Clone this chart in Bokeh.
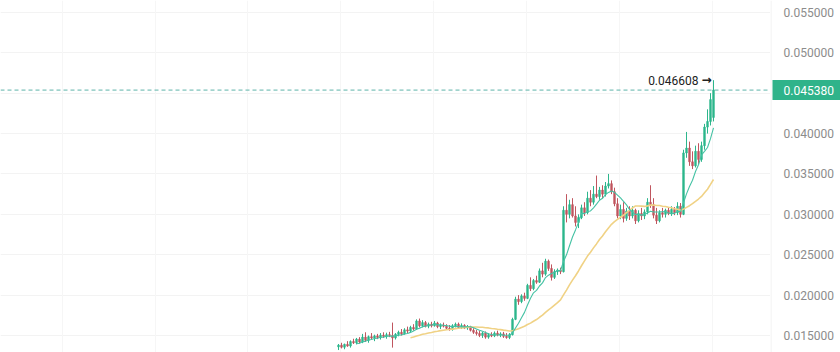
import pandas as pd
from bokeh.plotting import figure
from bokeh.layouts import row
from bokeh.models import Range1d, FixedTicker, Span, ColumnDataSource, Grid
from bokeh.core.properties import value
from bokeh.embed import file_html
from bokeh.resources import INLINE

# ---- data ----
opens = [0.01360, 0.01380, 0.01355, 0.01390, 0.01370, 0.01425, 0.01410, 0.01455, 0.01420, 0.01480,
         0.01440, 0.01485, 0.01470, 0.01495, 0.01475, 0.01505, 0.01490, 0.01510, 0.01500, 0.01470,
         0.01515, 0.01540, 0.01520, 0.01570, 0.01555, 0.01600, 0.01580, 0.01680, 0.01620, 0.01660,
         0.01615, 0.01640, 0.01620, 0.01655, 0.01610, 0.01630, 0.01615, 0.01590, 0.01575, 0.01620,
         0.01640, 0.01600, 0.01625, 0.01595, 0.01610, 0.01565, 0.01540, 0.01525, 0.01500, 0.01530,
         0.01480, 0.01510, 0.01495, 0.01530, 0.01505, 0.01520, 0.01490, 0.01475, 0.01510, 0.01700,
         0.01950, 0.01920, 0.01990, 0.01960, 0.02120, 0.02080, 0.02180, 0.02160, 0.02300, 0.02260,
         0.02420, 0.02330, 0.02220, 0.02290, 0.02310, 0.02290, 0.03050, 0.03000, 0.03120, 0.02980,
         0.02900, 0.02960, 0.03080, 0.03020, 0.03200, 0.03150, 0.03250, 0.03220, 0.03300, 0.03250,
         0.03350, 0.03380, 0.03280, 0.03130, 0.02980, 0.03060, 0.02950, 0.03040, 0.02980, 0.03050,
         0.02920, 0.03010, 0.02980, 0.03030, 0.03150, 0.03120, 0.02990, 0.02920, 0.03020, 0.03000,
         0.03050, 0.03010, 0.03060, 0.03020, 0.03100, 0.03000, 0.03760, 0.03820, 0.03650, 0.03600,
         0.03780, 0.03680, 0.03850, 0.04080, 0.04150, 0.04200]
highs = [0.01395, 0.01410, 0.01400, 0.01430, 0.01440, 0.01460, 0.01470, 0.01480, 0.01520, 0.01540,
         0.01500, 0.01530, 0.01510, 0.01520, 0.01530, 0.01540, 0.01535, 0.01545, 0.01660, 0.01530,
         0.01560, 0.01580, 0.01590, 0.01610, 0.01620, 0.01640, 0.01700, 0.01710, 0.01690, 0.01680,
         0.01660, 0.01670, 0.01680, 0.01670, 0.01650, 0.01660, 0.01640, 0.01630, 0.01640, 0.01660,
         0.01660, 0.01650, 0.01640, 0.01630, 0.01620, 0.01590, 0.01570, 0.01560, 0.01545, 0.01550,
         0.01530, 0.01540, 0.01550, 0.01560, 0.01540, 0.01545, 0.01530, 0.01530, 0.01720, 0.01980,
         0.02000, 0.02010, 0.02030, 0.02140, 0.02220, 0.02200, 0.02240, 0.02330, 0.02400, 0.02450,
         0.02440, 0.02380, 0.02320, 0.02330, 0.02340, 0.03100, 0.03250, 0.03180, 0.03200, 0.03100,
         0.03000, 0.03120, 0.03150, 0.03280, 0.03300, 0.03350, 0.03480, 0.03340, 0.03360, 0.03400,
         0.03500, 0.03420, 0.03330, 0.03200, 0.03120, 0.03150, 0.03080, 0.03100, 0.03100, 0.03070,
         0.03050, 0.03080, 0.03060, 0.03200, 0.03360, 0.03200, 0.03080, 0.03050, 0.03080, 0.03070,
         0.03080, 0.03100, 0.03090, 0.03150, 0.03140, 0.03800, 0.04020, 0.03900, 0.03780, 0.03850,
         0.03880, 0.03900, 0.04120, 0.04300, 0.04500, 0.046608]
lows = [0.01320, 0.01340, 0.01330, 0.01360, 0.01350, 0.01395, 0.01390, 0.01400, 0.01405, 0.01420,
        0.01410, 0.01450, 0.01430, 0.01455, 0.01450, 0.01470, 0.01460, 0.01480, 0.01350, 0.01450,
        0.01490, 0.01500, 0.01510, 0.01530, 0.01540, 0.01560, 0.01570, 0.01600, 0.01600, 0.01600,
        0.01590, 0.01600, 0.01610, 0.01590, 0.01580, 0.01600, 0.01570, 0.01560, 0.01560, 0.01600,
        0.01590, 0.01580, 0.01580, 0.01570, 0.01550, 0.01520, 0.01500, 0.01480, 0.01470, 0.01460,
        0.01460, 0.01480, 0.01480, 0.01490, 0.01480, 0.01470, 0.01460, 0.01455, 0.01500, 0.01690,
        0.01880, 0.01900, 0.01930, 0.01950, 0.02050, 0.02060, 0.02140, 0.02150, 0.02220, 0.02240,
        0.02300, 0.02180, 0.02200, 0.02250, 0.02260, 0.02280, 0.02900, 0.02950, 0.02960, 0.02850,
        0.02830, 0.02940, 0.02980, 0.03000, 0.03100, 0.03120, 0.03200, 0.03180, 0.03200, 0.03220,
        0.03320, 0.03250, 0.03100, 0.02950, 0.02940, 0.02900, 0.02920, 0.02930, 0.02950, 0.02880,
        0.02900, 0.02930, 0.02940, 0.03000, 0.03080, 0.02950, 0.02880, 0.02900, 0.02960, 0.02960,
        0.02990, 0.02980, 0.02990, 0.02990, 0.02960, 0.02990, 0.03700, 0.03600, 0.03560, 0.03580,
        0.03620, 0.03650, 0.03800, 0.04000, 0.04100, 0.04150]
closes = [0.01380, 0.01355, 0.01390, 0.01370, 0.01425, 0.01410, 0.01455, 0.01420, 0.01480, 0.01440,
          0.01485, 0.01470, 0.01495, 0.01475, 0.01505, 0.01490, 0.01510, 0.01500, 0.01470, 0.01515,
          0.01540, 0.01520, 0.01570, 0.01555, 0.01600, 0.01580, 0.01680, 0.01620, 0.01660, 0.01615,
          0.01640, 0.01620, 0.01655, 0.01610, 0.01630, 0.01615, 0.01590, 0.01575, 0.01620, 0.01640,
          0.01600, 0.01625, 0.01595, 0.01610, 0.01565, 0.01540, 0.01525, 0.01500, 0.01530, 0.01480,
          0.01510, 0.01495, 0.01530, 0.01505, 0.01520, 0.01490, 0.01475, 0.01510, 0.01700, 0.01950,
          0.01920, 0.01990, 0.01960, 0.02120, 0.02080, 0.02180, 0.02160, 0.02300, 0.02260, 0.02420,
          0.02330, 0.02220, 0.02290, 0.02310, 0.02290, 0.03050, 0.03000, 0.03120, 0.02980, 0.02900,
          0.02960, 0.03080, 0.03020, 0.03200, 0.03150, 0.03250, 0.03220, 0.03300, 0.03250, 0.03350,
          0.03380, 0.03280, 0.03130, 0.02980, 0.03060, 0.02950, 0.03040, 0.02980, 0.03050, 0.02920,
          0.03010, 0.02980, 0.03030, 0.03150, 0.03120, 0.02990, 0.02920, 0.03020, 0.03000, 0.03050,
          0.03010, 0.03060, 0.03020, 0.03100, 0.03000, 0.03760, 0.03820, 0.03650, 0.03600, 0.03780,
          0.03680, 0.03850, 0.04080, 0.04150, 0.04420, 0.04538]
axis_ticks = [0.015, 0.020, 0.025, 0.030, 0.035, 0.040, 0.050, 0.055]
grid_ticks = [0.015, 0.020, 0.025, 0.030, 0.035, 0.040, 0.045, 0.050, 0.055]
fast_period = 7
slow_period = 25

UP = "#2db68c"
DOWN = "#c0565f"
BOX = "#2fb38a"

df = pd.DataFrame({"open": opens, "high": highs, "low": lows, "close": closes})
df["i"] = range(len(df))
df["top"] = df[["open", "close"]].max(axis=1)
df["bottom"] = df[["open", "close"]].min(axis=1)
df["color"] = [UP if c >= o else DOWN for o, c in zip(df.open, df.close)]
df["ma_fast"] = df.close.rolling(fast_period).mean()
df["ma_slow"] = df.close.rolling(slow_period).mean()
src = ColumnDataSource(df)

y_range = Range1d(0.012896, 0.05647)

# ---------- main price panel ----------
p = figure(width=770, height=352, output_backend="svg", toolbar_location=None,
           x_axis_location=None, y_axis_location=None,
           x_range=Range1d(-112.67, 144.0), y_range=y_range,
           min_border=0)
p.outline_line_color = None
p.center = []  # drop default grids
p.add_layout(Grid(dimension=1, ticker=FixedTicker(ticks=grid_ticks), grid_line_color="#f3f3f3"))
p.add_layout(Grid(dimension=0,
                  ticker=FixedTicker(ticks=[-92.0, -61.0, -30.3, 0.7, 31.7, 62.7, 93.7, 124.7]),
                  grid_line_color="#f6f6f6"))

# candles
p.segment(x0="i", y0="low", x1="i", y1="high", line_color="color", line_width=1, source=src)
p.vbar(x="i", width=0.62, top="top", bottom="bottom", fill_color="color", line_color="color",
       line_width=0.5, source=src)

# moving averages
p.line(x="i", y="ma_slow", line_color="#f0d285", line_width=1.6, source=src)
p.line(x="i", y="ma_fast", line_color="#45c2a4", line_width=1.1, source=src)

# last price line
last_close = closes[-1]
p.add_layout(Span(location=last_close, dimension="width", line_color="#5eb3a9",
                  line_dash="4 3", line_width=1))

# high annotation
hi_idx = int(df.high.idxmax())
hi_val = float(df.high.max())
p.text(x=[hi_idx], y=[hi_val], text=[f"{hi_val:.6f}"], text_align="right",
       text_baseline="middle", x_offset=-15, text_font_size="12px", text_color="#222222",
       text_font=value("Roboto"))
p.text(x=[hi_idx], y=[hi_val], text=["\u2192"], text_align="right",
       text_baseline="middle", x_offset=-2, text_font_size="12px", text_color="#222222",
       text_font=value("DejaVu Sans"), text_font_style="bold")

# ---------- price scale panel ----------
q = figure(width=70, height=352, output_backend="svg", toolbar_location=None,
           x_axis_location=None, y_axis_location=None,
           x_range=Range1d(0, 70), y_range=y_range, min_border=0)
q.outline_line_color = None
q.center = []
q.add_layout(Span(location=0.5, dimension="height", line_color="#f0f0f0", line_width=1))
q.text(x=[13] * len(axis_ticks), y=axis_ticks, text=[f"{t:.6f}" for t in axis_ticks],
       text_align="left", text_baseline="middle", text_font_size="12px",
       text_color="#8c8c8c", text_font=value("Roboto"))
q.rect(x=[36], y=[last_close], width=68, height=20, height_units="screen",
       fill_color=BOX, line_color=None)
q.text(x=[13], y=[last_close], text=[f"{last_close:.6f}"], text_align="left",
       text_baseline="middle", text_font_size="12px", text_color="white",
       text_font=value("Roboto"))

layout = row(p, q, spacing=0)
open("out.html", "w").write(file_html(layout, INLINE))
